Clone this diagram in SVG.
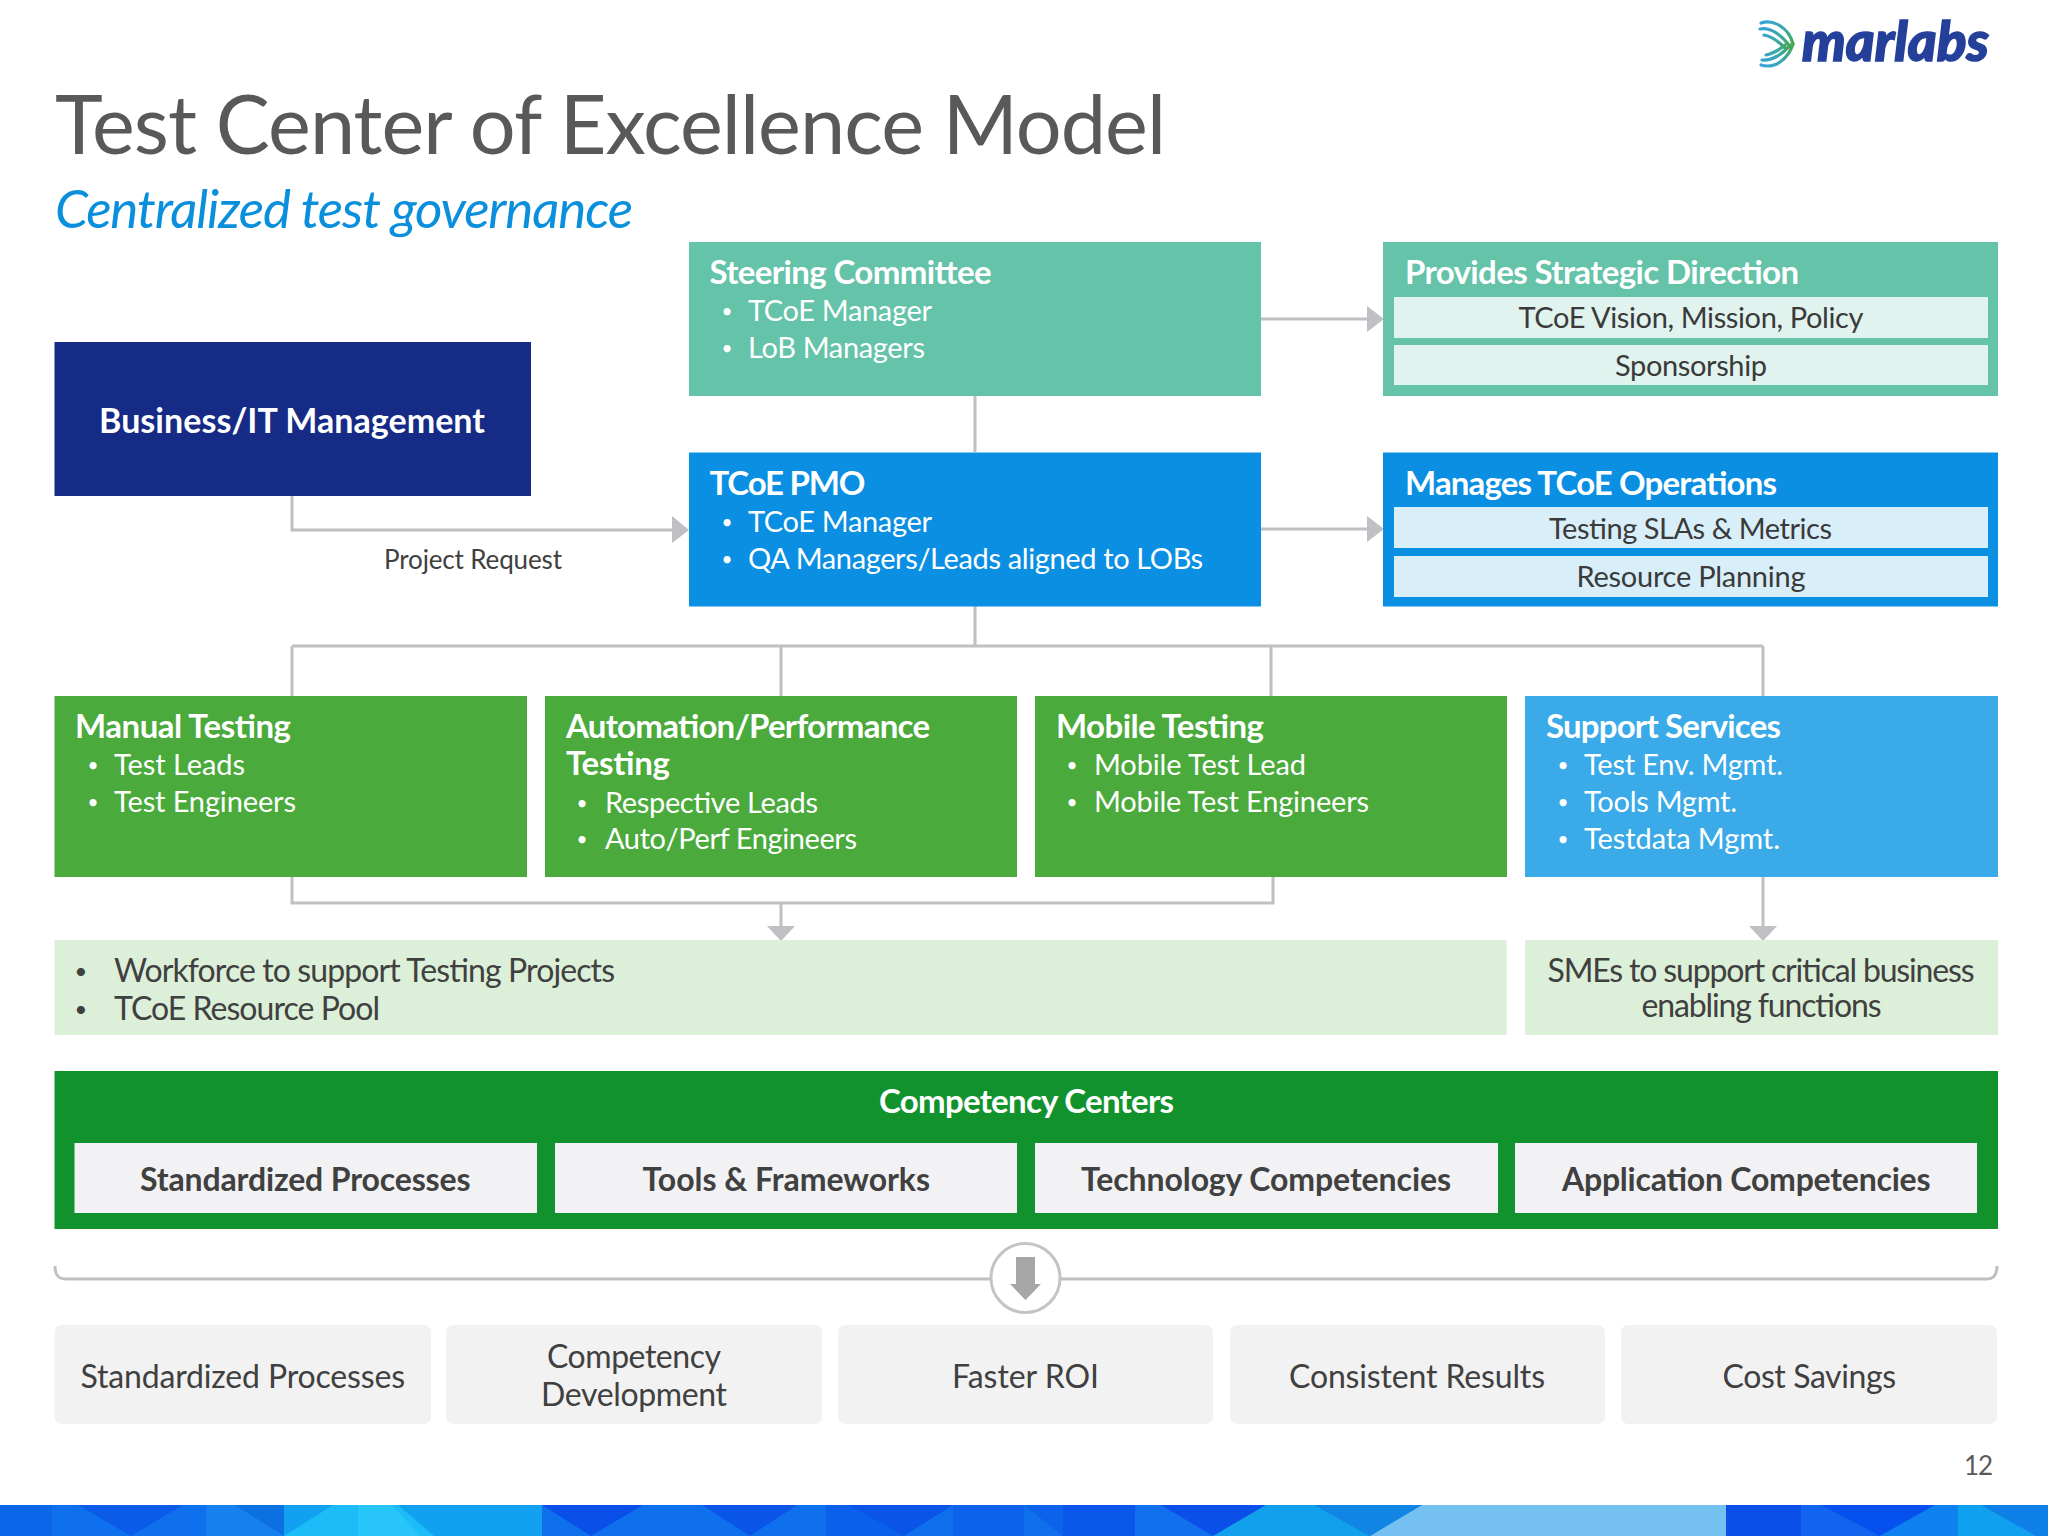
<svg xmlns="http://www.w3.org/2000/svg" width="2048" height="1536" viewBox="0 0 2048 1536">
<defs>
<style>
text{font-family:Lato,"Open Sans","Liberation Sans",sans-serif;fill:#404040}
.w{fill:#fff}
.t{font-size:33px;font-weight:700;fill:#fff}
.b{font-size:29px;fill:#fff}
.u{font-size:19px;fill:#fff;text-anchor:middle}
.v{font-size:22px;text-anchor:middle}
.d{font-size:29px;fill:#3a3a3a}
.g{font-size:32px;font-weight:700}
.o{font-size:32px}
.c{fill:none;stroke:#c0c0c4;stroke-width:3}
.h{fill:#c0c0c4}
.tile{fill:#f2f2f2}
.it{fill:#f2f2f4}
.s1{fill:none;stroke:url(#m1);stroke-width:3.200;stroke-linecap:round}
.s2{fill:none;stroke:url(#m2);stroke-width:3.200;stroke-linecap:round}
</style>
<linearGradient id="m1" gradientUnits="userSpaceOnUse" x1="1760" y1="24" x2="1794" y2="48"><stop offset="0" stop-color="#35a3dc"/><stop offset=".55" stop-color="#3aa8a8"/><stop offset="1" stop-color="#48a83a"/></linearGradient>
<linearGradient id="m2" gradientUnits="userSpaceOnUse" x1="1760" y1="66" x2="1794" y2="42"><stop offset="0" stop-color="#35a3dc"/><stop offset=".55" stop-color="#3aa8a8"/><stop offset="1" stop-color="#48a83a"/></linearGradient>
</defs>
<rect width="2048" height="1536" fill="#fff"/>
<g id="band">
<rect y="1505" width="2048" height="31" fill="#0f70ee"/>
<rect x="0" y="1505" width="52" height="31" fill="#0c66e8"/>
<polygon points="78,1505 183,1505 131,1536" fill="#0a5ce8"/>
<rect x="206" y="1505" width="78" height="31" fill="#1580ee"/>
<polygon points="235,1505 284,1505 284,1536" fill="#0d70e0"/>
<rect x="284" y="1505" width="258" height="31" fill="#12a0f0"/>
<polygon points="284,1536 333,1505 398,1505 434,1536" fill="#1cbcf8"/>
<polygon points="358,1536 358,1505 392,1505 420,1536" fill="#28c6f8"/>
<polygon points="542,1505 643,1505 591,1536" fill="#0a50e8"/>
<polygon points="702,1505 797,1505 750,1536" fill="#0a55e8"/>
<rect x="826" y="1505" width="78" height="31" fill="#0a60ea"/>
<polygon points="849,1505 953,1505 904,1536" fill="#0a55e8"/>
<rect x="953" y="1505" width="182" height="31" fill="#0c62ea"/>
<polygon points="1024,1505 1063,1536 1024,1536" fill="#0f70ee"/>
<rect x="1063" y="1505" width="72" height="31" fill="#0a55ea"/>
<rect x="1135" y="1505" width="78" height="31" fill="#1070ee"/>
<polygon points="1161,1505 1266,1505 1213,1536" fill="#0a50e8"/>
<polygon points="1213,1536 1266,1505 1315,1505 1370,1536" fill="#12a0ec"/>
<polygon points="1315,1505 1422,1505 1370,1536" fill="#1085e4"/>
<polygon points="1422,1505 1726,1505 1726,1536 1370,1536" fill="#74c0f0"/>
<rect x="1726" y="1505" width="75" height="31" fill="#0a50e8"/>
<rect x="1801" y="1505" width="79" height="31" fill="#1064f0"/>
<polygon points="1821,1505 1935,1505 1880,1536" fill="#0650ee"/>
<polygon points="1880,1536 1935,1505 1958,1505 1958,1536" fill="#0e80f0"/>
<rect x="1958" y="1505" width="90" height="31" fill="#10a0f0"/>
<polygon points="1981,1505 2048,1505 2048,1536 2036,1536" fill="#0e80e8"/>
</g>
<g id="logo">
<path class="s2" d="M1761 65C1774 69 1788 60 1793 44"/>
<path class="s2" d="M1762 60C1772 61 1783 54 1790 45"/>
<path class="s2" d="M1766 55C1772 54 1779 50 1785 45"/>
<path class="s1" d="M1761 23C1774 19 1789 28 1793 44"/>
<path class="s1" d="M1760 29C1771 27 1783 36 1790 47"/>
<path class="s1" d="M1764 35C1771 36 1779 42 1785 48"/>
<text x="1802" y="61" font-size="55" font-weight="900" font-style="italic" textLength="187" stroke="#24409a" stroke-width="1.500" style="fill:#24409a">marlabs</text>
</g>
<text x="55" y="154" font-size="81" textLength="1111" style="fill:#595959">Test Center of Excellence Model</text>
<text x="55" y="228" font-size="53" font-style="italic" textLength="578" style="fill:#0a8fdc">Centralized test governance</text>
<g id="connectors">
<path class="c" d="M975 396V452M975 606V646M292 646H1763M292 646V696M781 646V696M1271 646V696M1763 646V696"/>
<path class="c" d="M292 496V530H672"/><polygon class="h" points="672,516 689,530 672,543"/>
<path class="c" d="M1261 319H1368"/><polygon class="h" points="1367,306 1384,319 1367,332"/>
<path class="c" d="M1261 529H1368"/><polygon class="h" points="1367,516 1384,529 1367,542"/>
<path class="c" d="M292 877V903H1273V877M781 903V928"/><polygon class="h" points="767,926 795,926 781,941"/>
<path class="c" d="M1763 877V928"/><polygon class="h" points="1749,926 1777,926 1763,941"/>
<path class="c" d="M55 1266C55 1275 58 1279 66 1279H1987C1993 1279 1997 1275 1997 1266"/>
</g>
<g id="business"><rect x="54.500" y="342" width="476.500" height="154" fill="#152b85"/><text x="99" y="433" font-size="34" font-weight="700" textLength="386" class="w">Business/IT Management</text></g>
<g id="steering"><rect x="689" y="242" width="572" height="154" fill="#64c3a8"/>
<text class="t" x="709.500" y="284" textLength="282">Steering Committee</text>
<text class="u" x="727" y="318">•</text><text class="b" x="748" y="321" textLength="184">TCoE Manager</text>
<text class="u" x="727" y="355">•</text><text class="b" x="748" y="358" textLength="177">LoB Managers</text></g>
<g id="pmo"><rect x="689" y="452.500" width="572" height="154" fill="#0a8fe3"/>
<text class="t" x="709.500" y="495" textLength="156">TCoE PMO</text>
<text class="u" x="727" y="529">•</text><text class="b" x="748" y="532" textLength="184">TCoE Manager</text>
<text class="u" x="727" y="566">•</text><text class="b" x="748" y="569" textLength="455">QA Managers/Leads aligned to LOBs</text></g>
<text x="384" y="569" font-size="26" textLength="178">Project Request</text>
<g id="strategic"><rect x="1383" y="242" width="615" height="154" fill="#64c3a8"/>
<text class="t" x="1405" y="284" textLength="394">Provides Strategic Direction</text>
<rect x="1394" y="297" width="594" height="41" fill="#e1f3ee"/><text class="d" x="1518.500" y="328" textLength="345">TCoE Vision, Mission, Policy</text>
<rect x="1394" y="345" width="594" height="40" fill="#e1f3ee"/><text class="d" x="1615" y="376" textLength="152">Sponsorship</text></g>
<g id="operations"><rect x="1383" y="452.500" width="615" height="154" fill="#0a8fe3"/>
<text class="t" x="1405" y="495" textLength="372">Manages TCoE Operations</text>
<rect x="1394" y="507" width="594" height="41" fill="#d8eef9"/><text class="d" x="1549" y="538.500" textLength="283">Testing SLAs &amp; Metrics</text>
<rect x="1394" y="556" width="594" height="41" fill="#d8eef9"/><text class="d" x="1576.500" y="587" textLength="229">Resource Planning</text></g>
<g id="manual"><rect x="54.500" y="696" width="472.500" height="181" fill="#4aaa3c"/>
<text class="t" x="75" y="738" textLength="216">Manual Testing</text>
<text class="u" x="93" y="772">•</text><text class="b" x="114" y="775" textLength="131">Test Leads</text>
<text class="u" x="93" y="809">•</text><text class="b" x="114" y="812" textLength="182">Test Engineers</text></g>
<g id="automation"><rect x="545" y="696" width="472" height="181" fill="#4aaa3c"/>
<text class="t" x="566" y="738" textLength="364">Automation/Performance</text>
<text class="t" x="566" y="775" textLength="104">Testing</text>
<text class="u" x="582" y="810">•</text><text class="b" x="605" y="813" textLength="213">Respective Leads</text>
<text class="u" x="582" y="846">•</text><text class="b" x="605" y="849" textLength="252">Auto/Perf Engineers</text></g>
<g id="mobile"><rect x="1035" y="696" width="472" height="181" fill="#4aaa3c"/>
<text class="t" x="1056" y="738" textLength="208">Mobile Testing</text>
<text class="u" x="1072" y="772">•</text><text class="b" x="1094" y="775" textLength="212">Mobile Test Lead</text>
<text class="u" x="1072" y="809">•</text><text class="b" x="1094" y="812" textLength="275">Mobile Test Engineers</text></g>
<g id="support"><rect x="1525" y="696" width="473" height="181" fill="#3aaae8"/>
<text class="t" x="1546" y="738" textLength="235">Support Services</text>
<text class="u" x="1563" y="772">•</text><text class="b" x="1584" y="775" textLength="199">Test Env. Mgmt.</text>
<text class="u" x="1563" y="809">•</text><text class="b" x="1584" y="812" textLength="153">Tools Mgmt.</text>
<text class="u" x="1563" y="846">•</text><text class="b" x="1584" y="849" textLength="196">Testdata Mgmt.</text></g>
<g id="workforce"><rect x="54.500" y="940" width="1452" height="95" fill="#dcefd8"/>
<text class="v" x="81" y="979">•</text><text class="o" x="114" y="982" textLength="501">Workforce to support Testing Projects</text>
<text class="v" x="81" y="1017">•</text><text class="o" x="114" y="1020" textLength="266">TCoE Resource Pool</text></g>
<g id="smes"><rect x="1525" y="940" width="473" height="95" fill="#dcefd8"/>
<text class="o" x="1547.500" y="982" textLength="427">SMEs to support critical business</text>
<text class="o" x="1641.500" y="1017" textLength="240">enabling functions</text></g>
<g id="competency"><rect x="54.500" y="1071" width="1943.500" height="158" fill="#12922c"/>
<text class="t" x="879" y="1113" textLength="295">Competency Centers</text>
<rect class="it" x="74.500" y="1143" width="462.500" height="70"/><text class="g" x="140" y="1191" textLength="330.500">Standardized Processes</text>
<rect class="it" x="555" y="1143" width="462" height="70"/><text class="g" x="642.500" y="1191" textLength="287.500">Tools &amp; Frameworks</text>
<rect class="it" x="1035" y="1143" width="463" height="70"/><text class="g" x="1081" y="1191" textLength="370">Technology Competencies</text>
<rect class="it" x="1515" y="1143" width="462" height="70"/><text class="g" x="1562" y="1191" textLength="368.500">Application Competencies</text></g>
<g id="down"><circle cx="1025.500" cy="1278" r="34.500" fill="#fff" stroke="#c4c4c4" stroke-width="3"/>
<polygon points="1016,1257 1035,1257 1035,1284 1041,1284 1025.500,1300 1010,1284 1016,1284" fill="#a6a6a6"/></g>
<g id="o1"><rect class="tile" x="54.500" y="1325" width="376.500" height="99" rx="7"/><text class="o" x="80.500" y="1388" textLength="324.500">Standardized Processes</text></g>
<g id="o2"><rect class="tile" x="446" y="1325" width="376" height="99" rx="7"/><text class="o" x="547" y="1368" textLength="174">Competency</text><text class="o" x="541" y="1406" textLength="186">Development</text></g>
<g id="o3"><rect class="tile" x="838" y="1325" width="375" height="99" rx="7"/><text class="o" x="952" y="1388" textLength="147">Faster ROI</text></g>
<g id="o4"><rect class="tile" x="1230" y="1325" width="375" height="99" rx="7"/><text class="o" x="1289" y="1388" textLength="256">Consistent Results</text></g>
<g id="o5"><rect class="tile" x="1621" y="1325" width="376" height="99" rx="7"/><text class="o" x="1722.500" y="1388" textLength="173.500">Cost Savings</text></g>
<text x="1964" y="1475" font-size="26" textLength="29" style="fill:#595959">12</text>
</svg>
